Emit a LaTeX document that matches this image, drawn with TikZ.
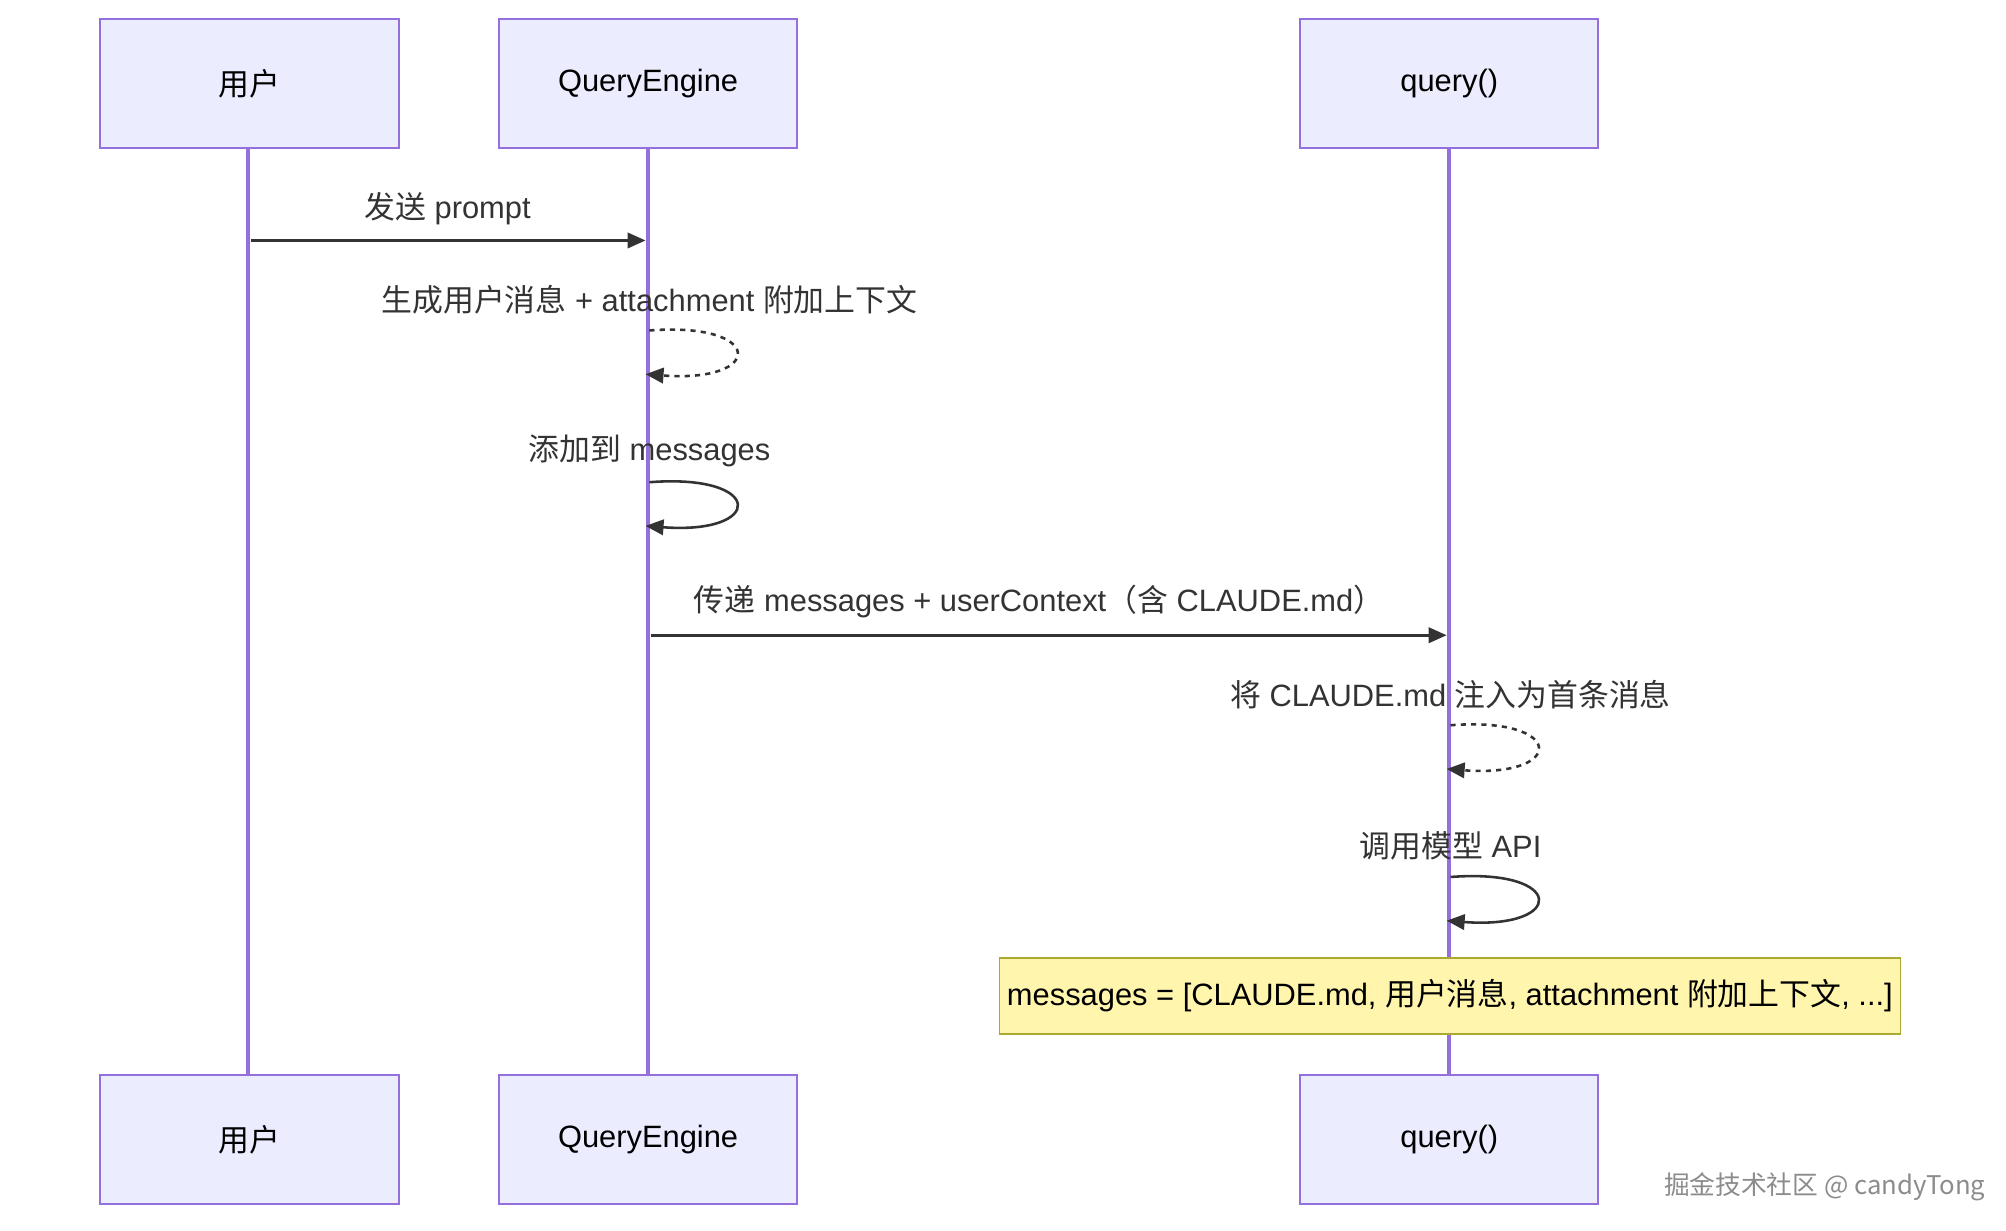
\documentclass[tikz,border=0pt]{standalone}
\usepackage{fontspec}
\setmainfont{Liberation Sans}
\newfontfamily\cjk{Noto Sans CJK SC}
\usetikzlibrary{arrows.meta}
\begin{document}
\begin{tikzpicture}[x=1pt,y=-1pt,font=\fontsize{24}{28}\selectfont,
  actor/.style={draw=purple0,fill=boxfill,line width=1.5pt,minimum width=232pt,minimum height=100pt,inner sep=0pt},
  life/.style={draw=purple0,line width=3pt},
  msg/.style={draw=txt,line width=2pt,-{Triangle[length=14pt,width=12pt]}},
  dmsg/.style={msg,dash pattern=on 4pt off 4pt},
  lbl/.style={text=txt,inner sep=0pt}]
\definecolor{purple0}{HTML}{9370DB}
\definecolor{boxfill}{HTML}{ECECFF}
\definecolor{txt}{HTML}{333333}
\useasboundingbox (0,0) rectangle (1560,957);
\fill[white] (0,0) rectangle (1560,957);
% lifelines
\coordinate (u1) at (193,116); \coordinate (u2) at (193,836);
\coordinate (q1) at (504,116); \coordinate (q2) at (504,836);
\coordinate (f1) at (1127,116); \coordinate (f2) at (1127,836);
\draw[life] (u1)--(u2); \draw[life] (q1)--(q2); \draw[life] (f1)--(f2);
\node[actor] (ut) at (194,65) {\cjk 用户};
\node[actor] (qt) at (504,65) {QueryEngine};
\node[actor] (ft) at (1127,65) {query()};
\node[actor] (ub) at (194,886) {\cjk 用户};
\node[actor] (qb) at (504,886) {QueryEngine};
\node[actor] (fb) at (1127,886) {query()};
% messages
\coordinate (m1a) at (195,187); \coordinate (m1b) at (502,187);
\draw[msg] (m1a)--(m1b);
\node[lbl] (l1) at (348,162) {{\cjk 发送} prompt};
\node[lbl] (l2) at (505,233) {{\cjk 生成用户消息} + attachment {\cjk 附加上下文}};
\coordinate (s1a) at (505,257); \coordinate (s1b) at (502,291);
\draw[dmsg] (s1a) .. controls (595,250) and (595,298) .. (s1b);
\node[lbl] (l3) at (505,351) {{\cjk 添加到} messages};
\coordinate (s2a) at (505,375); \coordinate (s2b) at (502,409);
\draw[msg] (s2a) .. controls (595,368) and (595,416) .. (s2b);
\node[lbl] (l4) at (808,468) {{\cjk 传递} messages + userContext{\cjk （含} CLAUDE.md{\cjk ）}};
\coordinate (m2a) at (506,494); \coordinate (m2b) at (1125,494);
\draw[msg] (m2a)--(m2b);
\node[lbl] (l5) at (1128,540) {{\cjk 将} CLAUDE.md {\cjk 注入为首条消息}};
\coordinate (s3a) at (1128,564); \coordinate (s3b) at (1125,598);
\draw[dmsg] (s3a) .. controls (1218,557) and (1218,605) .. (s3b);
\node[lbl] (l6) at (1128,658) {{\cjk 调用模型} API};
\coordinate (s4a) at (1128,682); \coordinate (s4b) at (1125,716);
\draw[msg] (s4a) .. controls (1218,675) and (1218,723) .. (s4b);
% note
\node[draw={rgb,255:red,170;green,170;blue,51},fill={rgb,255:red,255;green,245;blue,173},line width=1pt,minimum width=701pt,minimum height=59pt,inner sep=0pt,text=black] (note) at (1127.5,774.5) {messages = [CLAUDE.md, {\cjk 用户消息}, attachment {\cjk 附加上下文}, ...]};
\node[text=black!45,font=\cjk\fontsize{20}{24}\selectfont,inner sep=0pt] (wm) at (1419,923) {掘金技术社区 @ candyTong};
\end{tikzpicture}
\end{document}
